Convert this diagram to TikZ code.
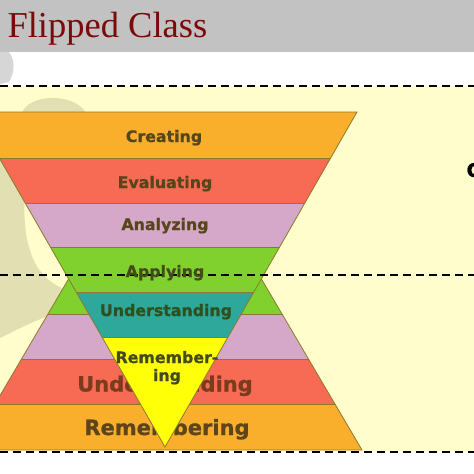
\documentclass[tikz,border=0pt]{standalone}
\usepackage{fontspec}
\setmainfont{Liberation Serif}
\newfontfamily\labelfont{DejaVu Sans}[BoldFeatures={FakeBold=0.8}]
\definecolor{graybar}{HTML}{C2C2C2}
\definecolor{paleyellow}{HTML}{FFFDCB}
\definecolor{titlered}{HTML}{7B0A0A}
\definecolor{wmark}{HTML}{E2E0B3}
\definecolor{wmarkgray}{HTML}{D6D6D6}
\definecolor{bandorange}{HTML}{FAAF2C}
\definecolor{bandred}{HTML}{F76A53}
\definecolor{bandpink}{HTML}{D5A7C8}
\definecolor{bandgreen}{HTML}{80D12E}
\definecolor{bandteal}{HTML}{2DA89B}
\definecolor{bandyellow}{HTML}{FFFF08}
\definecolor{bandedge}{HTML}{8B7A2E}
\definecolor{olivetext}{HTML}{55471A}
\definecolor{greentext}{HTML}{2E4F1E}
\definecolor{browntext}{HTML}{7A3C1C}

\begin{document}
\begin{tikzpicture}[x=1pt,y=-1pt,
  dashrule/.style={black,line width=2pt,dash pattern=on 7.5pt off 5.5pt},
  bandline/.style={bandedge,line width=0.8pt},
  lbl/.style={anchor=base,font=\labelfont\bfseries\fontsize{15.8}{18}\selectfont,text=olivetext},
  biglbl/.style={anchor=base,font=\labelfont\bfseries\fontsize{21}{24}\selectfont,text=browntext}]
  \def\cx{165};
  % upright pyramid
  \def\uptop{115};
  \def\upbot{450};
  \def\uphw{197};
  % flipped pyramid
  \def\dntop{112};
  \def\dnbot{447};
  \def\dnhw{192};
  \useasboundingbox (0,0) rectangle (474,474);
  \fill[white] (0,0) rectangle (474,474);
  \fill[graybar] (0,0) rectangle (474,52);
  \fill[paleyellow] (0,86) rectangle (474,452);
  % watermark
  \fill[wmarkgray] (0,52) -- (9,52) .. controls (15,60) and (15,72) .. (9,82) -- (0,84) -- cycle;
  \fill[wmark] (22,113) .. controls (28,94) and (74,92) .. (86,113) -- cycle;
  \fill[wmark] (0,150) -- (20,155) .. controls (28,190) and (20,222) .. (30,250)
        .. controls (36,272) and (50,284) .. (70,292) -- (60,312)
        .. controls (40,318) and (20,328) .. (0,338) -- cycle;
  \node[anchor=base west,text=titlered,font=\fontsize{36.5}{40}\selectfont] (title) at (4,37) {Flipped Class};
  \begin{scope}
    \clip (\cx,\uptop) -- (\cx+\uphw,\upbot) -- (\cx-\uphw,\upbot) -- cycle;
    \foreach \ya/\yb/\col in {100/314/bandgreen,314/359/bandpink,359/404/bandred,404/450/bandorange}
      \fill[\col] (-40,\ya) rectangle (400,\yb);
    \foreach \yb in {314,359,404}
      \draw[bandline] (-40,\yb) -- (400,\yb);
  \end{scope}
  \draw[bandline] (\cx,\uptop) -- (\cx+\uphw,\upbot) -- (\cx-\uphw,\upbot) -- cycle;
  \node[biglbl] (upunder) at (165,391.5) {Understanding};
  \node[biglbl,text=olivetext!80!browntext] (upremem) at (167,435) {Remembering};
  \begin{scope}
    \clip (\cx-\dnhw,\dntop) -- (\cx+\dnhw,\dntop) -- (\cx,\dnbot) -- cycle;
    \foreach \ya/\yb/\col in {112/158/bandorange,158/203/bandred,203/247/bandpink,247/292/bandgreen,292/337/bandteal,337/447/bandyellow}
      \fill[\col] (-40,\ya) rectangle (400,\yb);
    \foreach \yb in {158,203,247,292,337}
      \draw[bandline] (-40,\yb) -- (400,\yb);
  \end{scope}
  \draw[bandline] (\cx-\dnhw,\dntop) -- (\cx+\dnhw,\dntop) -- (\cx,\dnbot) -- cycle;
  \draw[dashrule] (0,86) -- (474,86);
  \draw[dashrule,line width=1.5pt] (0,275) -- (474,275);
  \draw[dashrule] (0,452) -- (474,452);
  \node[lbl] (create) at (164,142) {Creating};
  \node[lbl] (evaluate) at (165,188) {Evaluating};
  \node[lbl] (analyze) at (165,230) {Analyzing};
  \node[lbl,text=olivetext!60!greentext] (apply) at (165,277) {Applying};
  \node[lbl,text=greentext] (under) at (166,316) {Understanding};
  \node[lbl,align=center,text=olivetext!60!greentext] (remem) at (167,381) {Remember-\\ing};
  \node[anchor=base west,font=\labelfont\bfseries\fontsize{19}{22}\selectfont] (cutoff) at (463,177) {C};
\end{tikzpicture}
\end{document}
